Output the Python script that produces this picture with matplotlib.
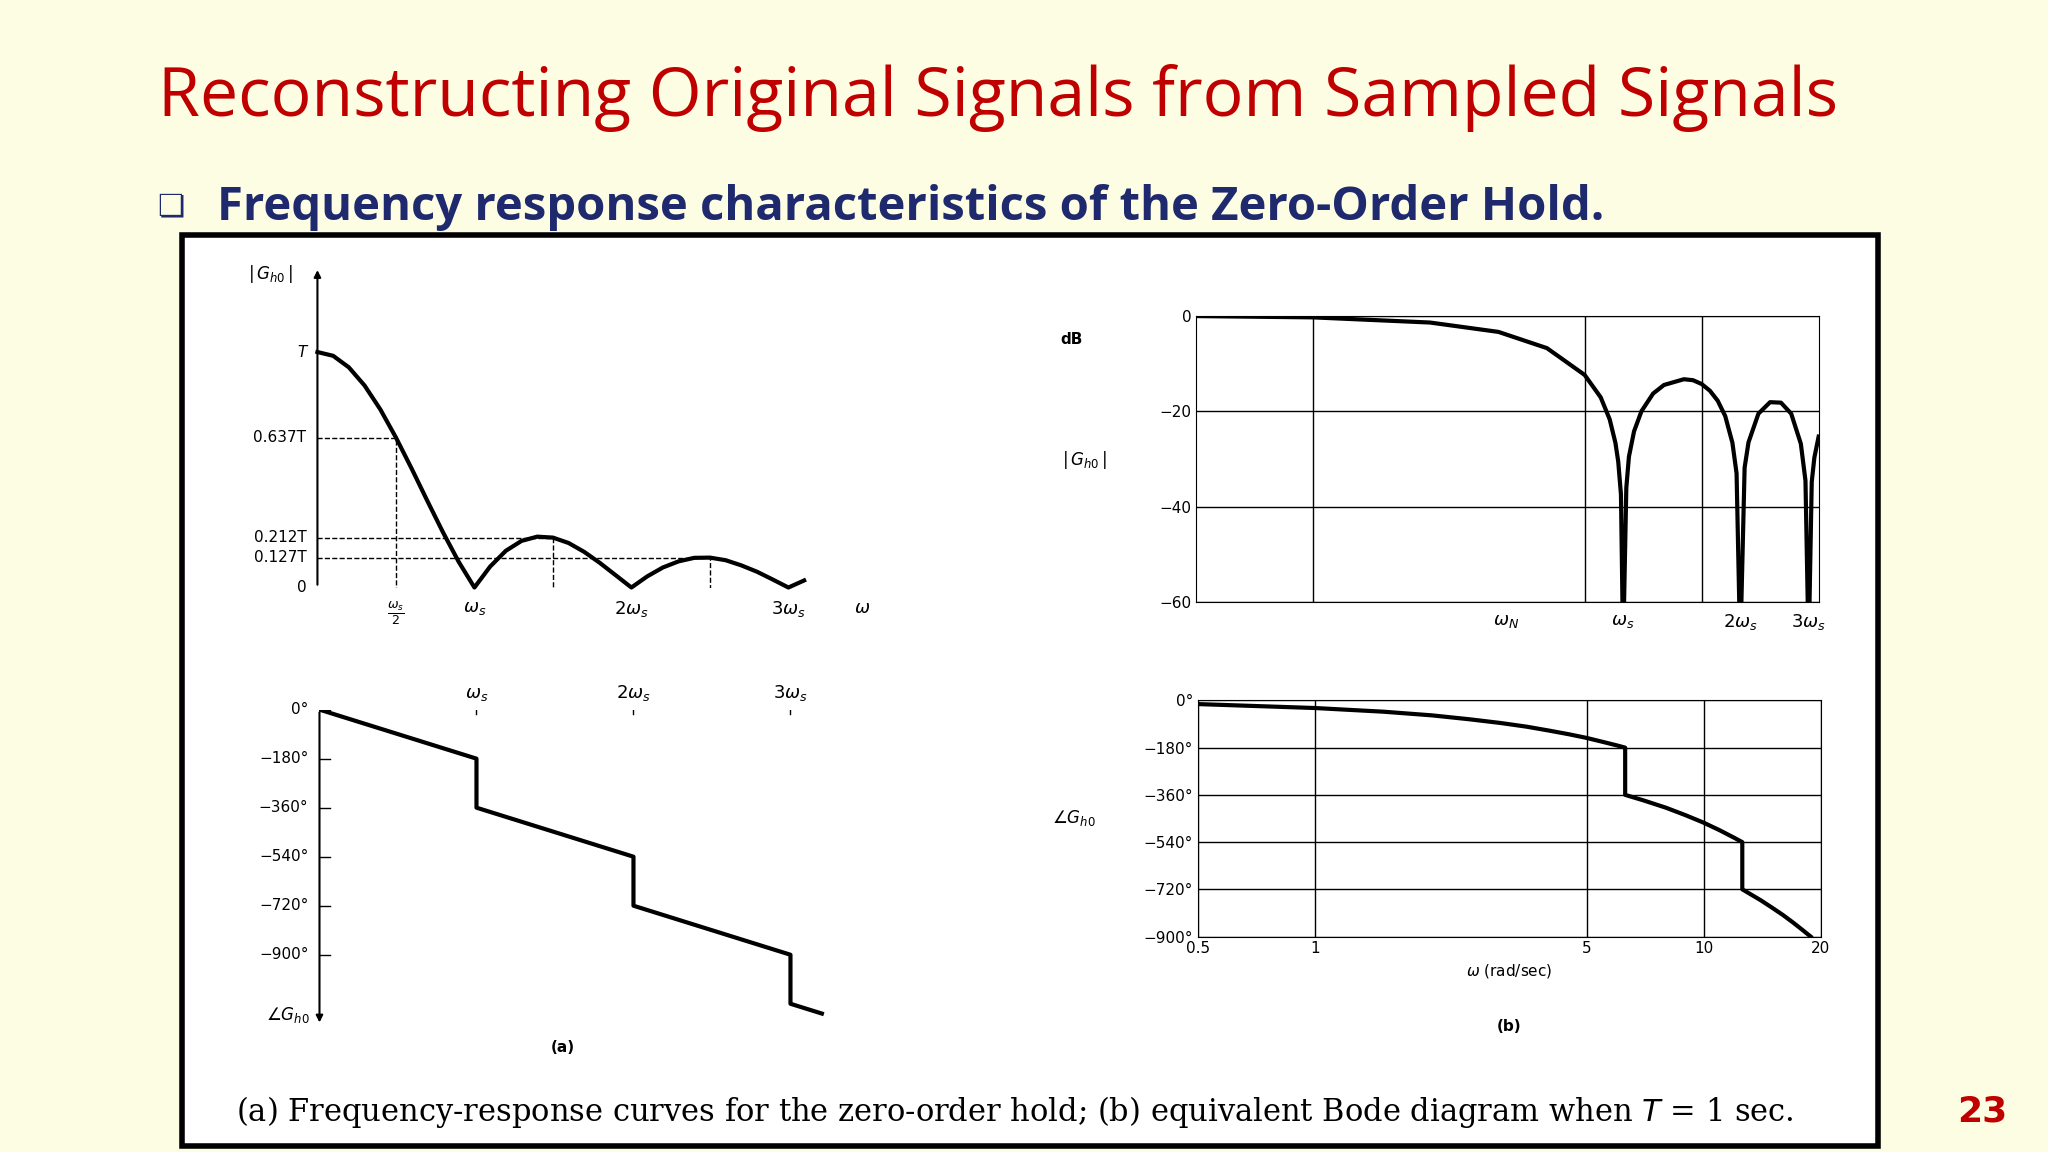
import numpy as np
import matplotlib.pyplot as plt
from matplotlib.patches import Rectangle

# (a) magnitude |Gh0| / T versus w/ws
w_mag = [0, .1, .2, .3, .4, .5, .6, .7, .8, .9, 1.0, 1.1, 1.2, 1.3, 1.4, 1.5, 1.6, 1.7, 1.8, 1.9,
         2.0, 2.1, 2.2, 2.3, 2.4, 2.5, 2.6, 2.7, 2.8, 2.9, 3.0, 3.1]
g_mag = [1, .984, .935, .858, .757, .637, .505, .368, .234, .109, 0, .089, .156, .198, .216, .212,
         .189, .151, .104, .052, 0, .047, .085, .111, .126, .127, .116, .094, .067, .034, 0, .03]
# (a) phase in degrees versus w/ws
w_ph = [0, 1, 1, 2, 2, 3, 3, 3.2]
g_ph = [0, -180, -360, -540, -720, -900, -1080, -1116]
# (b) Bode magnitude, T = 1 s
w_db = [0.5, 1, 2, 3, 4, 5, 5.5, 5.8, 6, 6.1, 6.2, 6.28, 6.4, 6.5, 6.7, 7, 7.5, 8, 9, 9.5, 10,
        10.5, 11, 11.5, 12, 12.3, 12.57, 12.9, 13.2, 14, 15, 16, 17, 18, 18.5, 18.85, 19.2, 19.5, 20]
db = [-0.09, -0.36, -1.44, -3.4, -6.8, -12.4, -17.1, -21.7, -26.6, -30.5, -37.4, -70, -36, -29.5,
      -24.2, -20, -16.3, -14.5, -13.3, -13.5, -14.3, -15.7, -17.8, -21, -26.6, -33, -70, -31.8,
      -26.5, -20.5, -18.1, -18.2, -20.5, -26.8, -34.5, -70, -34.8, -29.7, -25.3]
# (b) Bode phase
w_bph = [0.5, 1, 1.5, 2, 2.5, 3, 3.5, 4, 4.5, 5, 5.5, 6, 6.28, 6.28, 7, 8, 9, 10, 11, 12, 12.57,
         12.57, 14, 15, 16, 17, 18, 18.85]
bph = [-14, -29, -43, -57, -72, -86, -100, -115, -129, -143, -158, -172, -180, -360, -381, -409,
       -438, -466, -495, -524, -540, -720, -761, -790, -818, -847, -876, -900]

BG = "#fdfde3"
fig = plt.figure(figsize=(20.48, 11.52), dpi=100, facecolor=BG)
plt.rcParams['font.family'] = ['DejaVu Sans']

fig.text(0.077, 0.915, "Reconstructing Original Signals from Sampled Signals", color="#c00000",
         fontsize=49, family="Open Sans", va="center")
fig.text(0.077, 0.82, "\u274f", color="#1f2a6e", fontsize=22, va="center")
fig.text(0.106, 0.82, "Frequency response characteristics of the Zero-Order Hold.", color="#1f2a6e",
         fontsize=34, family="Open Sans", fontweight="bold", va="center")
fig.text(0.98, 0.035, "23", color="#c00000", fontsize=26, fontweight="bold", ha="right", va="center")
fig.patches.append(Rectangle((0.089, 0.005), 0.828, 0.791, transform=fig.transFigure,
                             facecolor="white", edgecolor="black", lw=4, zorder=-10))

lw = 3
# top-left
ax = fig.add_axes([0.155, 0.49, 0.266, 0.278])
ax.set_xlim(0, 3.47); ax.set_ylim(0, 1.36); ax.axis("off")
ax.plot(w_mag, g_mag, color="black", lw=lw, clip_on=False)
ax.annotate("", xy=(3.5, 0), xytext=(0, 0), arrowprops=dict(arrowstyle="-|>", color="black", lw=1.5))
ax.annotate("", xy=(0, 1.36), xytext=(0, 0), arrowprops=dict(arrowstyle="-|>", color="black", lw=1.5), annotation_clip=False)
for x, y in [(0.5, .637), (1.5, .212), (2.5, .127)]:
    ax.plot([0, x, x], [y, y, 0], "k--", lw=1)
for y, s in [(1, "T"), (.637, "0.637T"), (.212, "0.212T"), (.127, "0.127T"), (0, "0")]:
    ax.text(-0.07, y, s, ha="right", va="center", fontsize=11, style="italic" if s == "T" else "normal")
for x, s in [(0.5, "$\\frac{\\omega_s}{2}$"), (1, "$\\omega_s$"), (2, "$2\\omega_s$"), (3, "$3\\omega_s$"), (3.47, "$\\omega$")]:
    ax.text(x, -0.05, s, ha="center", va="top", fontsize=13)
ax.text(-0.3, 1.33, "$|\\,G_{h0}\\,|$", ha="center", va="center", fontsize=12)

# bottom-left
ax = fig.add_axes([0.156, 0.11, 0.266, 0.274])
ax.set_xlim(0, 3.47); ax.set_ylim(-1159, 0); ax.axis("off")
ax.plot(w_ph, g_ph, color="black", lw=lw)
ax.annotate("", xy=(3.5, 0), xytext=(0, 0), arrowprops=dict(arrowstyle="-|>", color="black", lw=1.5))
ax.annotate("", xy=(0, -1159), xytext=(0, 0), arrowprops=dict(arrowstyle="-|>", color="black", lw=1.5))
for y in range(0, -1000, -180):
    ax.plot([0, 0.07], [y, y], "k", lw=1)
    ax.text(-0.07, y, "\u2212%d\u00b0" % -y if y else "0\u00b0", ha="right", va="center", fontsize=11)
for x, s in [(1, "$\\omega_s$"), (2, "$2\\omega_s$"), (3, "$3\\omega_s$")]:
    ax.plot([x, x], [0, -15], "k", lw=1)
    ax.text(x, 25, s, ha="center", va="bottom", fontsize=13)
ax.text(-0.2, -1120, "$\\angle G_{h0}$", ha="center", va="center", fontsize=12)
ax.text(1.55, -1240, "(a)", ha="center", va="center", fontsize=11, fontweight="bold")

# top-right
ax = fig.add_axes([0.584, 0.477, 0.304, 0.249])
ax.set_xscale("log"); ax.set_xlim(0.5, 20); ax.set_ylim(-60, 0)
ax.plot(w_db, db, color="black", lw=lw)
ax.set_xticks([1, 5, 10]); ax.set_xticklabels([]); ax.minorticks_off()
ax.set_yticks([0, -20, -40, -60]); ax.set_yticklabels(["0", "\u221220", "\u221240", "\u221260"], fontsize=11)
ax.tick_params(length=0)
ax.grid(color="black", lw=1)
for x, s in [(np.pi, "$\\omega_N$"), (6.28, "$\\omega_s$"), (12.57, "$2\\omega_s$"), (18.85, "$3\\omega_s$")]:
    ax.text(x, -62, s, ha="center", va="top", fontsize=13)
ax.text(-0.2, 0.9, "dB", transform=ax.transAxes, fontsize=11, fontweight="bold", ha="center")
ax.text(-0.18, 0.48, "$|\\,G_{h0}\\,|$", transform=ax.transAxes, fontsize=12, ha="center")

# bottom-right
ax = fig.add_axes([0.585, 0.187, 0.304, 0.205])
ax.set_xscale("log"); ax.set_xlim(0.5, 20); ax.set_ylim(-900, 0)
ax.plot(w_bph, bph, color="black", lw=lw)
ax.set_xticks([0.5, 1, 5, 10, 20]); ax.set_xticklabels(["0.5", "1", "5", "10", "20"], fontsize=11)
ax.minorticks_off()
ax.set_yticks(range(0, -901, -180))
ax.set_yticklabels(["0\u00b0"] + ["\u2212%d\u00b0" % v for v in range(180, 901, 180)], fontsize=11)
ax.tick_params(length=0)
ax.grid(color="black", lw=1)
ax.set_xlabel("$\\omega$ (rad/sec)", fontsize=11)
ax.text(-0.2, 0.48, "$\\angle G_{h0}$", transform=ax.transAxes, fontsize=12, ha="center")
ax.text(0.5, -0.4, "(b)", transform=ax.transAxes, fontsize=11, fontweight="bold", ha="center")

fig.text(0.115, 0.035, "(a) Frequency-response curves for the zero-order hold; (b) equivalent Bode diagram when $T$ = 1 sec.",
         fontsize=22, family="DejaVu Serif", va="center")

fig.savefig("out.png", dpi=100, facecolor=BG)
